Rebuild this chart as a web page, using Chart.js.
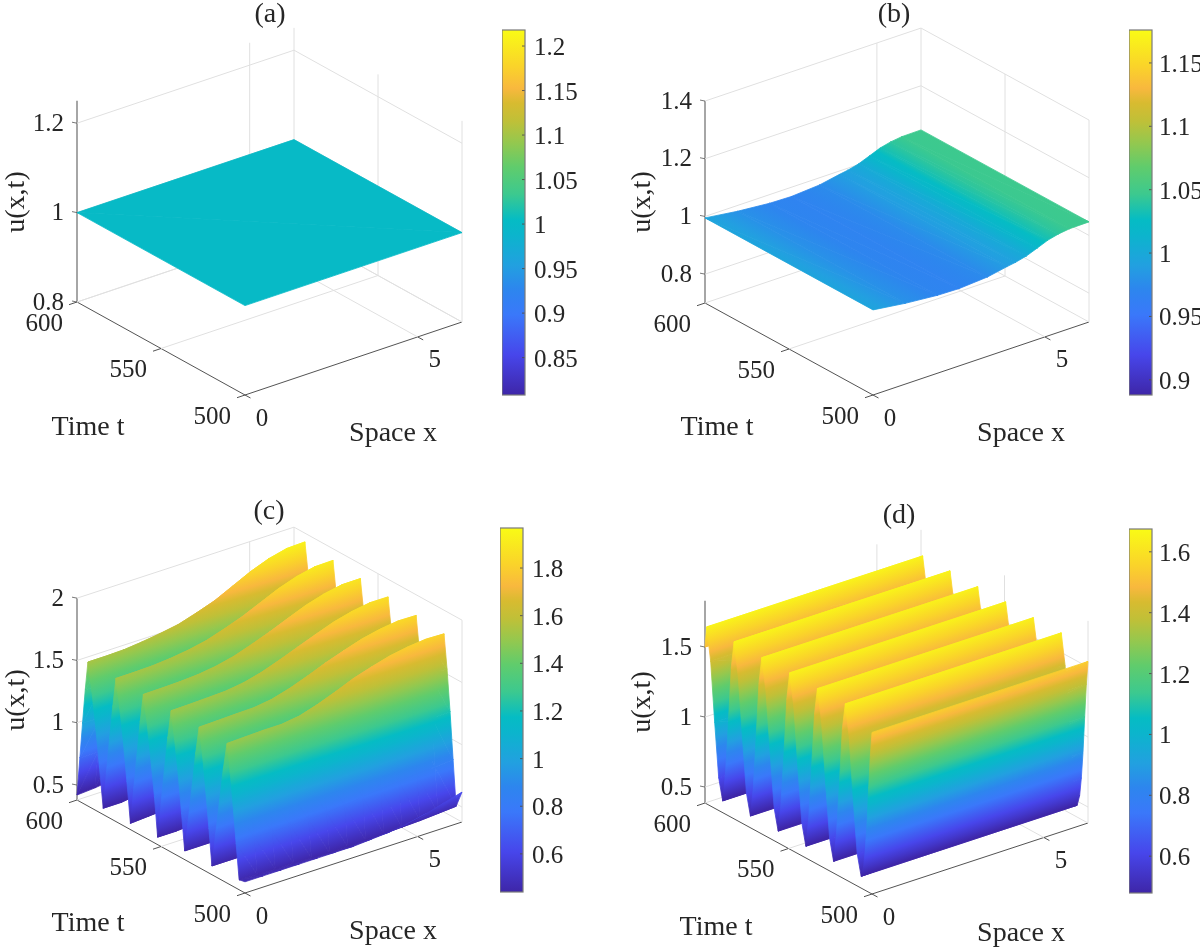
<!DOCTYPE html>
<html>
<head>
<meta charset="utf-8">
<title>u(x,t) surfaces</title>
<script src="https://cdn.jsdelivr.net/npm/chart.js@4"></script>
<style>
html, body { margin: 0; padding: 0; background: #fff; overflow: hidden; }
canvas { position: absolute; }
</style>
</head>
<body>
<script>
// values
const xMax = 6.2832;
const tMin = 500;
const tMax = 600;

const xTicks = [0, 5];
const tTicks = [500, 550, 600];

// panel (a): flat steady state
const xA = [0, 6.2832];
const tA = [500, 600];
const uA = [[1, 1], [1, 1]];
const zTicksA = [0.8, 1, 1.2];
const climA = [0.808, 1.218];
const barTicksA = [0.85, 0.9, 0.95, 1, 1.05, 1.1, 1.15, 1.2];

// panel (b): stationary pattern, same profile at every t
const xB = [0, 0.94, 1.88, 2.51, 3.33, 3.9, 4.15, 4.46, 4.78, 5.09, 5.4, 5.72, 6.2832];
const tB = [500, 600];
const profileB = [0.995, 0.98, 0.97, 0.968, 0.975, 0.988, 0.993, 1.002, 1.017, 1.032, 1.041, 1.046, 1.047];
const uB = [profileB, profileB];
const zTicksB = [0.8, 1, 1.2, 1.4];
const climB = [0.888, 1.176];
const barTicksB = [0.9, 0.95, 1, 1.05, 1.1, 1.15];

// panel (c): one row per t, thirteen columns across x
const xC = [0, 0.524, 1.047, 1.571, 2.094, 2.618, 3.142, 3.665, 4.189, 4.712, 5.236, 5.76, 6.2832];
const tC = [
  500, 503.5, 505.3, 507.1, 508.9, 510.7, 513, 515.2, 517.5, 519.7,
  521.5, 523.4, 525.3, 527.3, 529.4, 531.5, 533.7, 535.9,
  537.8, 539.8, 541.9, 544, 546, 548, 550, 552,
  553.9, 556.1, 558.3, 560.5, 562.4, 564.3, 566.2, 568.2,
  570.3, 572.4, 574.6, 576.8, 578.7, 580.6, 582.5, 584.4,
  586.7, 588.9, 591.2, 593.5, 595.1, 596.7, 598.3, 600
];
const uC = [
  [0.47, 0.47, 0.47, 0.47, 0.47, 0.47, 0.47, 0.48, 0.49, 0.51, 0.54, 0.58, 0.62],
  [0.46, 0.455, 0.45, 0.45, 0.445, 0.44, 0.44, 0.445, 0.45, 0.455, 0.46, 0.47, 0.48],
  [0.74, 0.74, 0.74, 0.74, 0.74, 0.75, 0.76, 0.78, 0.8, 0.81, 0.82, 0.83, 0.84],
  [1.03, 1.03, 1.03, 1.03, 1.04, 1.06, 1.1, 1.13, 1.16, 1.18, 1.2, 1.21, 1.21],
  [1.29, 1.3, 1.3, 1.3, 1.31, 1.35, 1.39, 1.44, 1.48, 1.51, 1.53, 1.55, 1.54],
  [1.5, 1.505, 1.51, 1.51, 1.53, 1.575, 1.63, 1.69, 1.735, 1.775, 1.8, 1.815, 1.81],
  [1.27, 1.27, 1.28, 1.28, 1.29, 1.33, 1.37, 1.42, 1.45, 1.49, 1.51, 1.52, 1.52],
  [1, 1, 1, 1, 1.01, 1.03, 1.06, 1.09, 1.12, 1.14, 1.16, 1.17, 1.17],
  [0.72, 0.72, 0.72, 0.72, 0.72, 0.72, 0.74, 0.76, 0.77, 0.79, 0.8, 0.81, 0.81],
  [0.45, 0.45, 0.45, 0.45, 0.445, 0.44, 0.44, 0.445, 0.45, 0.455, 0.46, 0.47, 0.48],
  [0.74, 0.74, 0.74, 0.74, 0.74, 0.75, 0.76, 0.78, 0.8, 0.81, 0.83, 0.84, 0.85],
  [1.03, 1.03, 1.03, 1.04, 1.05, 1.06, 1.1, 1.13, 1.16, 1.19, 1.21, 1.22, 1.22],
  [1.3, 1.3, 1.3, 1.31, 1.32, 1.35, 1.39, 1.44, 1.48, 1.52, 1.54, 1.57, 1.56],
  [1.507, 1.511, 1.516, 1.519, 1.539, 1.58, 1.633, 1.691, 1.741, 1.787, 1.818, 1.837, 1.834],
  [1.28, 1.28, 1.28, 1.29, 1.3, 1.33, 1.37, 1.42, 1.46, 1.5, 1.52, 1.54, 1.54],
  [1, 1, 1, 1.01, 1.01, 1.03, 1.06, 1.09, 1.12, 1.15, 1.17, 1.18, 1.18],
  [0.72, 0.72, 0.72, 0.72, 0.72, 0.72, 0.74, 0.76, 0.77, 0.79, 0.8, 0.81, 0.82],
  [0.45, 0.45, 0.45, 0.45, 0.445, 0.44, 0.44, 0.445, 0.45, 0.455, 0.46, 0.47, 0.48],
  [0.74, 0.74, 0.74, 0.74, 0.74, 0.75, 0.76, 0.78, 0.8, 0.82, 0.83, 0.84, 0.85],
  [1.04, 1.04, 1.04, 1.04, 1.05, 1.07, 1.1, 1.13, 1.16, 1.19, 1.22, 1.23, 1.24],
  [1.3, 1.31, 1.31, 1.31, 1.33, 1.36, 1.39, 1.44, 1.49, 1.53, 1.56, 1.58, 1.58],
  [1.514, 1.517, 1.522, 1.528, 1.548, 1.585, 1.636, 1.692, 1.747, 1.799, 1.836, 1.859, 1.858],
  [1.28, 1.28, 1.29, 1.29, 1.31, 1.34, 1.37, 1.42, 1.46, 1.51, 1.54, 1.56, 1.56],
  [1.01, 1.01, 1.01, 1.01, 1.02, 1.03, 1.06, 1.09, 1.12, 1.15, 1.18, 1.19, 1.19],
  [0.72, 0.72, 0.72, 0.72, 0.72, 0.72, 0.74, 0.76, 0.77, 0.79, 0.81, 0.82, 0.82],
  [0.44, 0.44, 0.45, 0.45, 0.445, 0.44, 0.44, 0.445, 0.45, 0.455, 0.46, 0.47, 0.48],
  [0.75, 0.75, 0.74, 0.75, 0.75, 0.75, 0.77, 0.78, 0.81, 0.82, 0.84, 0.85, 0.86],
  [1.04, 1.04, 1.04, 1.05, 1.06, 1.07, 1.1, 1.13, 1.17, 1.2, 1.23, 1.25, 1.25],
  [1.31, 1.31, 1.31, 1.32, 1.33, 1.36, 1.4, 1.45, 1.49, 1.54, 1.57, 1.6, 1.6],
  [1.522, 1.524, 1.528, 1.537, 1.557, 1.59, 1.639, 1.693, 1.753, 1.811, 1.854, 1.881, 1.882],
  [1.29, 1.29, 1.29, 1.3, 1.31, 1.34, 1.38, 1.42, 1.47, 1.51, 1.55, 1.57, 1.57],
  [1.01, 1.01, 1.01, 1.02, 1.02, 1.04, 1.07, 1.1, 1.13, 1.16, 1.18, 1.2, 1.21],
  [0.73, 0.73, 0.72, 0.72, 0.73, 0.73, 0.74, 0.76, 0.78, 0.8, 0.81, 0.82, 0.83],
  [0.43, 0.44, 0.45, 0.45, 0.445, 0.44, 0.44, 0.445, 0.45, 0.455, 0.46, 0.47, 0.48],
  [0.75, 0.75, 0.74, 0.75, 0.75, 0.75, 0.77, 0.78, 0.81, 0.83, 0.84, 0.85, 0.86],
  [1.05, 1.05, 1.05, 1.05, 1.06, 1.08, 1.1, 1.13, 1.17, 1.2, 1.24, 1.26, 1.27],
  [1.31, 1.32, 1.32, 1.32, 1.34, 1.37, 1.4, 1.45, 1.5, 1.55, 1.59, 1.61, 1.62],
  [1.529, 1.53, 1.534, 1.546, 1.566, 1.595, 1.642, 1.694, 1.759, 1.823, 1.872, 1.903, 1.906],
  [1.29, 1.29, 1.3, 1.3, 1.32, 1.35, 1.38, 1.42, 1.47, 1.52, 1.57, 1.59, 1.59],
  [1.02, 1.02, 1.02, 1.02, 1.03, 1.04, 1.07, 1.1, 1.13, 1.16, 1.19, 1.22, 1.22],
  [0.73, 0.73, 0.72, 0.73, 0.73, 0.73, 0.74, 0.76, 0.78, 0.8, 0.82, 0.83, 0.83],
  [0.43, 0.43, 0.45, 0.45, 0.445, 0.44, 0.44, 0.445, 0.45, 0.455, 0.46, 0.47, 0.48],
  [0.75, 0.75, 0.74, 0.75, 0.75, 0.75, 0.77, 0.78, 0.81, 0.83, 0.85, 0.86, 0.87],
  [1.05, 1.05, 1.05, 1.06, 1.07, 1.08, 1.1, 1.13, 1.17, 1.21, 1.25, 1.27, 1.28],
  [1.32, 1.32, 1.32, 1.33, 1.35, 1.37, 1.4, 1.45, 1.5, 1.56, 1.6, 1.63, 1.64],
  [1.536, 1.536, 1.54, 1.555, 1.575, 1.6, 1.645, 1.695, 1.765, 1.835, 1.89, 1.925, 1.93],
  [1.3, 1.3, 1.3, 1.31, 1.33, 1.35, 1.38, 1.42, 1.48, 1.53, 1.58, 1.61, 1.61],
  [1.02, 1.02, 1.02, 1.03, 1.03, 1.04, 1.07, 1.1, 1.13, 1.17, 1.2, 1.23, 1.23],
  [0.73, 0.73, 0.72, 0.73, 0.73, 0.73, 0.74, 0.76, 0.78, 0.8, 0.82, 0.83, 0.84],
  [0.42, 0.43, 0.45, 0.45, 0.445, 0.44, 0.44, 0.445, 0.45, 0.455, 0.46, 0.47, 0.48]
];
const zTicksC = [0.5, 1, 1.5, 2];
const climC = [0.44, 1.968];
const barTicksC = [0.6, 0.8, 1, 1.2, 1.4, 1.6, 1.8];

// panel (d): homogeneous in x, so one time series is enough
const xD = [0, 6.2832];
const tD = [
  500, 501, 502, 503, 504, 505, 506.5,
  508.9, 511.3, 513.7, 516, 517.75, 519.5, 521.25, 523,
  525.4, 527.8, 530.2, 532.7, 534.4, 536.2, 537.9, 539.6,
  542, 544.4, 546.8, 549.3, 551, 552.7, 554.5, 556.2,
  558.6, 561, 563.5, 566, 567.7, 569.4, 571.1, 572.8,
  575.2, 577.6, 580.1, 582.6, 584.3, 586, 587.7, 589.4,
  591.8, 594.2, 596.6, 599, 600
];
const seriesD = [
  1.54, 1.37, 1.13, 0.87, 0.68, 0.55, 0.47,
  0.62, 1, 1.42, 1.64, 1.45, 1.05, 0.68, 0.47,
  0.62, 1, 1.42, 1.64, 1.45, 1.05, 0.68, 0.47,
  0.62, 1, 1.42, 1.645, 1.45, 1.05, 0.68, 0.47,
  0.62, 1, 1.42, 1.645, 1.45, 1.05, 0.68, 0.47,
  0.62, 1, 1.42, 1.65, 1.45, 1.05, 0.68, 0.47,
  0.62, 1, 1.42, 1.65, 1.5
];
const uD = seriesD.map(v => [v, v]);
const zTicksD = [0.5, 1, 1.5];
const climD = [0.479, 1.675];
const barTicksD = [0.6, 0.8, 1, 1.2, 1.4, 1.6];

// parula-like colormap
const cmapPos = [0, 0.11, 0.22, 0.29, 0.355, 0.44, 0.48, 0.55, 0.625, 0.69, 0.75, 0.8, 0.84, 0.9, 1];
const cmapColors = ['#3e26a8', '#4746eb', '#3a78fa', '#2d86ee', '#22a0e0', '#0bb5cc', '#05bcc4', '#3cc98f',
  '#60cc6c', '#93c84f', '#bfc038', '#d8bb30', '#f8b83e', '#fad32a', '#f9fb15'];

const serif = '"Liberation Serif"';
const textColor = '#262626';
const tickFont = '25px ' + serif;
const labelFont = '28px ' + serif;

function project(p, x, t, u) {
  const fx = x / xMax;
  const ft = (t - tMin) / (tMax - tMin);
  return {
    x: p.F[0] + fx * (p.R[0] - p.F[0]) + ft * (p.L[0] - p.F[0]),
    y: p.F[1] + fx * (p.R[1] - p.F[1]) + ft * (p.L[1] - p.F[1]) - (u - p.zMin) * p.zPx
  };
}

function hexRgb(h) {
  return [parseInt(h.slice(1, 3), 16), parseInt(h.slice(3, 5), 16), parseInt(h.slice(5, 7), 16)];
}

function cmapAt(f) {
  f = Math.min(1, Math.max(0, f));
  let i = 0;
  while (i < cmapPos.length - 2 && f > cmapPos[i + 1]) i++;
  const s = (f - cmapPos[i]) / (cmapPos[i + 1] - cmapPos[i]);
  const a = hexRgb(cmapColors[i]), b = hexRgb(cmapColors[i + 1]);
  return 'rgb(' + a.map((v, k) => Math.round(v + s * (b[k] - v))).join(',') + ')';
}

function addStops(g) {
  cmapPos.forEach((pos, i) => g.addColorStop(pos, cmapColors[i]));
  return g;
}

function line(a, b, color, width) {
  return { data: [a, b], showLine: true, pointRadius: 0, borderColor: color, borderWidth: width };
}

// grid walls, box edges, axis lines and tick marks, all through project()
function frameDatasets(p) {
  const out = [];
  const gridColor = '#e0e0e0';
  const P = (x, t, u) => project(p, x, t, u);
  const zA = p.zMin, zB = p.zTop;
  p.zTicks.forEach(z => {
    out.push(line(P(0, tMax, z), P(xMax, tMax, z), gridColor, 1));
    out.push(line(P(xMax, tMax, z), P(xMax, tMin, z), gridColor, 1));
    const a = P(0, tMax, z);
    out.push(line(a, { x: a.x - 5, y: a.y - 1 }, '#555', 0.8));
  });
  out.push(line(P(5, tMin, zA), P(5, tMax, zA), gridColor, 1));
  out.push(line(P(5, tMax, zA), P(5, tMax, zB), gridColor, 1));
  out.push(line(P(0, 550, zA), P(xMax, 550, zA), gridColor, 1));
  out.push(line(P(xMax, 550, zA), P(xMax, 550, zB), gridColor, 1));
  out.push(line(P(0, tMax, zA), P(xMax, tMax, zA), gridColor, 1));
  out.push(line(P(xMax, tMax, zA), P(xMax, tMin, zA), gridColor, 1));
  out.push(line(P(xMax, tMax, zA), P(xMax, tMax, zB), gridColor, 1));
  out.push(line(P(xMax, tMin, zA), P(xMax, tMin, zB), gridColor, 1));
  // axes
  out.push(line(P(0, tMax, zA), P(0, tMax, zB), '#808080', 1.4));
  out.push(line(P(0, tMin, zA), P(0, tMax, zA), '#404040', 0.9));
  out.push(line(P(0, tMin, zA), P(xMax, tMin, zA), '#404040', 0.9));
  tTicks.forEach(t => {
    const a = P(0, t, zA);
    out.push(line(a, { x: a.x - 8, y: a.y + 2.7 }, '#404040', 0.9));
  });
  xTicks.forEach(x => {
    const a = P(x, tMin, zA);
    out.push(line(a, { x: a.x + 5.5, y: a.y + 3 }, '#404040', 0.9));
  });
  return out;
}

function surfaceDataset(p) {
  const pts = [];
  p.ts.forEach((t, j) => p.xs.forEach((x, i) => {
    const q = project(p, x, t, p.us[j][i]);
    pts.push({ x: q.x, y: q.y, u: p.us[j][i] });
  }));
  return { surface: true, data: pts, showLine: false, pointRadius: 0 };
}

// one triangle with the colormap laid across it, colour follows u
function fillTriangle(ctx, a, b, c, ua, ub, uc, clim) {
  const d1x = b.x - a.x, d1y = b.y - a.y, d2x = c.x - a.x, d2y = c.y - a.y;
  const du1 = ub - ua, du2 = uc - ua;
  const det = d1x * d2y - d1y * d2x;
  let style;
  if (Math.abs(det) < 1e-6) return;
  const gx = (du1 * d2y - du2 * d1y) / det;
  const gy = (du2 * d1x - du1 * d2x) / det;
  const g2 = gx * gx + gy * gy;
  if (g2 < 1e-12) {
    style = cmapAt((ua - clim[0]) / (clim[1] - clim[0]));
  } else {
    const s0 = (clim[0] - ua) / g2, s1 = (clim[1] - ua) / g2;
    style = addStops(ctx.createLinearGradient(a.x + gx * s0, a.y + gy * s0, a.x + gx * s1, a.y + gy * s1));
  }
  ctx.fillStyle = style;
  ctx.strokeStyle = style;
  ctx.beginPath();
  ctx.moveTo(a.x, a.y);
  ctx.lineTo(b.x, b.y);
  ctx.lineTo(c.x, c.y);
  ctx.closePath();
  ctx.fill();
  ctx.stroke();
}

const surfacePlugin = {
  id: 'surface',
  afterDatasetsDraw(chart) {
    const p = chart.options.plugins.surface;
    const idx = chart.data.datasets.findIndex(d => d.surface);
    const els = chart.getDatasetMeta(idx).data;
    const raw = chart.data.datasets[idx].data;
    const nx = p.xs.length;
    const ctx = chart.ctx;
    ctx.save();
    ctx.lineWidth = 0.8;
    ctx.lineJoin = 'round';
    // far corner first, near corner last
    for (let j = p.ts.length - 2; j >= 0; j--) {
      for (let i = nx - 2; i >= 0; i--) {
        const k00 = j * nx + i, k10 = k00 + 1, k01 = k00 + nx, k11 = k01 + 1;
        fillTriangle(ctx, els[k01], els[k11], els[k10], raw[k01].u, raw[k11].u, raw[k10].u, p.clim);
        fillTriangle(ctx, els[k01], els[k10], els[k00], raw[k01].u, raw[k10].u, raw[k00].u, p.clim);
      }
    }
    // tick labels
    const xs = chart.scales.x, ys = chart.scales.y;
    const put = (s, x, y, align) => {
      ctx.textAlign = align;
      ctx.fillText(s, xs.getPixelForValue(x), ys.getPixelForValue(y));
    };
    ctx.fillStyle = textColor;
    ctx.font = tickFont;
    ctx.textBaseline = 'middle';
    p.zTicks.forEach(z => {
      const a = project(p, 0, tMax, z);
      put(String(z), a.x - 13, a.y + 1, 'right');
    });
    tTicks.forEach(t => {
      const a = project(p, 0, t, p.zMin);
      put(String(t), a.x - 14, a.y + 22, 'right');
    });
    xTicks.forEach(x => {
      const a = project(p, x, tMin, p.zMin);
      put(String(x), a.x + 17, a.y + 24, 'center');
    });
    ctx.font = labelFont;
    put(p.title[0], p.title[1], p.title[2], 'center');
    put('Time t', p.timeAt[0], p.timeAt[1], 'center');
    put('Space x', p.spaceAt[0], p.spaceAt[1], 'center');
    ctx.translate(xs.getPixelForValue(p.uAt[0]), ys.getPixelForValue(p.uAt[1]));
    ctx.rotate(-Math.PI / 2);
    ctx.textAlign = 'center';
    ctx.fillText('u(x,t)', 0, 0);
    ctx.restore();
  }
};

const barPlugin = {
  id: 'barFrame',
  afterDatasetsDraw(chart) {
    const a = chart.chartArea;
    const ctx = chart.ctx;
    const y = chart.scales.y;
    ctx.save();
    ctx.strokeStyle = '#4d4d4d';
    ctx.lineWidth = 0.9;
    ctx.fillStyle = textColor;
    ctx.font = tickFont;
    ctx.textBaseline = 'middle';
    y.ticks.forEach(tk => {
      const py = y.getPixelForValue(tk.value);
      ctx.beginPath();
      ctx.moveTo(a.right, py);
      ctx.lineTo(a.right - 3, py);
      ctx.stroke();
      // the right-hand bars sit close to the page edge
      ctx.fillText(String(tk.value), a.right + (chart.width < 90 ? 7 : 9), py + 2.5);
    });
    ctx.strokeStyle = '#7a7a7a';
    ctx.lineWidth = 1.2;
    ctx.strokeRect(a.left, a.top, a.right - a.left, a.bottom - a.top);
    ctx.restore();
  }
};

function makeCanvas(left, top, w, h) {
  const c = document.createElement('canvas');
  c.style.left = left + 'px';
  c.style.top = top + 'px';
  c.style.width = w + 'px';
  c.style.height = h + 'px';
  c.width = w;
  c.height = h;
  document.body.appendChild(c);
  return c;
}

function drawPanel(p) {
  const w = 495, h = 474;
  const canvas = makeCanvas(p.left, p.top, w, h);
  new Chart(canvas.getContext('2d'), {
    type: 'scatter',
    data: { datasets: frameDatasets(p).concat([surfaceDataset(p)]) },
    options: {
      responsive: false,
      animation: false,
      layout: { padding: 0 },
      scales: {
        x: { type: 'linear', display: false, min: p.left, max: p.left + w },
        y: { type: 'linear', display: false, min: p.top, max: p.top + h, reverse: true }
      },
      plugins: { legend: { display: false }, tooltip: { enabled: false }, surface: p }
    },
    plugins: [surfacePlugin]
  });
}

function drawBar(left, top, barH, clim, ticks) {
  const pad = 14, barW = 23;
  const w = Math.min(1200 - left, 95);
  const canvas = makeCanvas(left, top - pad, w, barH + pad * 2);
  new Chart(canvas.getContext('2d'), {
    type: 'bar',
    data: {
      labels: [''],
      datasets: [{
        data: [clim],
        barPercentage: 1,
        categoryPercentage: 1,
        backgroundColor(c) {
          const a = c.chart.chartArea;
          if (!a) return cmapColors[0];
          return addStops(c.chart.ctx.createLinearGradient(0, a.bottom, 0, a.top));
        }
      }]
    },
    options: {
      responsive: false,
      animation: false,
      layout: { padding: { top: pad, bottom: pad } },
      scales: {
        x: { display: false },
        y: {
          position: 'right',
          min: clim[0],
          max: clim[1],
          grid: { display: false, drawTicks: false },
          border: { display: false },
          afterBuildTicks(s) { s.ticks = ticks.map(v => ({ value: v })); },
          afterFit(s) { s.width = w - barW; s.paddingTop = 0; s.paddingBottom = 0; },
          ticks: { display: false, autoSkip: false }
        }
      },
      plugins: { legend: { display: false }, tooltip: { enabled: false } }
    },
    plugins: [barPlugin]
  });
}

drawPanel({
  left: 0, top: 0, xs: xA, ts: tA, us: uA, clim: climA, zTicks: zTicksA,
  F: [245, 395], R: [462, 322], L: [77, 302], zMin: 0.8, zTop: 1.25, zPx: 447,
  title: ['(a)', 270, 15], uAt: [17, 202], timeAt: [88, 428], spaceAt: [393, 434]
});
drawPanel({
  left: 628, top: 0, xs: xB, ts: tB, us: uB, clim: climB, zTicks: zTicksB,
  F: [873, 395], R: [1089, 322], L: [705, 303], zMin: 0.7, zTop: 1.4, zPx: 288.5,
  title: ['(b)', 894, 15], uAt: [643, 202], timeAt: [717, 428], spaceAt: [1021, 434]
});
drawPanel({
  left: 0, top: 474, xs: xC, ts: tC, us: uC, clim: climC, zTicks: zTicksC,
  F: [245, 893], R: [462, 822], L: [77, 800], zMin: 0.38, zTop: 2, zPx: 124.6,
  title: ['(c)', 269, 512], uAt: [17, 700], timeAt: [88, 924], spaceAt: [393, 932]
});
drawPanel({
  left: 628, top: 474, xs: xD, ts: tD, us: uD, clim: climD, zTicks: zTicksD,
  F: [872, 894], R: [1088, 823], L: [705, 803], zMin: 0.386, zTop: 1.83, zPx: 140,
  title: ['(d)', 899, 516], uAt: [643, 702], timeAt: [716, 928], spaceAt: [1021, 934]
});

drawBar(502, 30, 365, climA, barTicksA);
drawBar(1129, 30, 365, climB, barTicksB);
drawBar(500, 528, 364, climC, barTicksC);
drawBar(1129, 529, 364, climD, barTicksD);
</script>
</body>
</html>
